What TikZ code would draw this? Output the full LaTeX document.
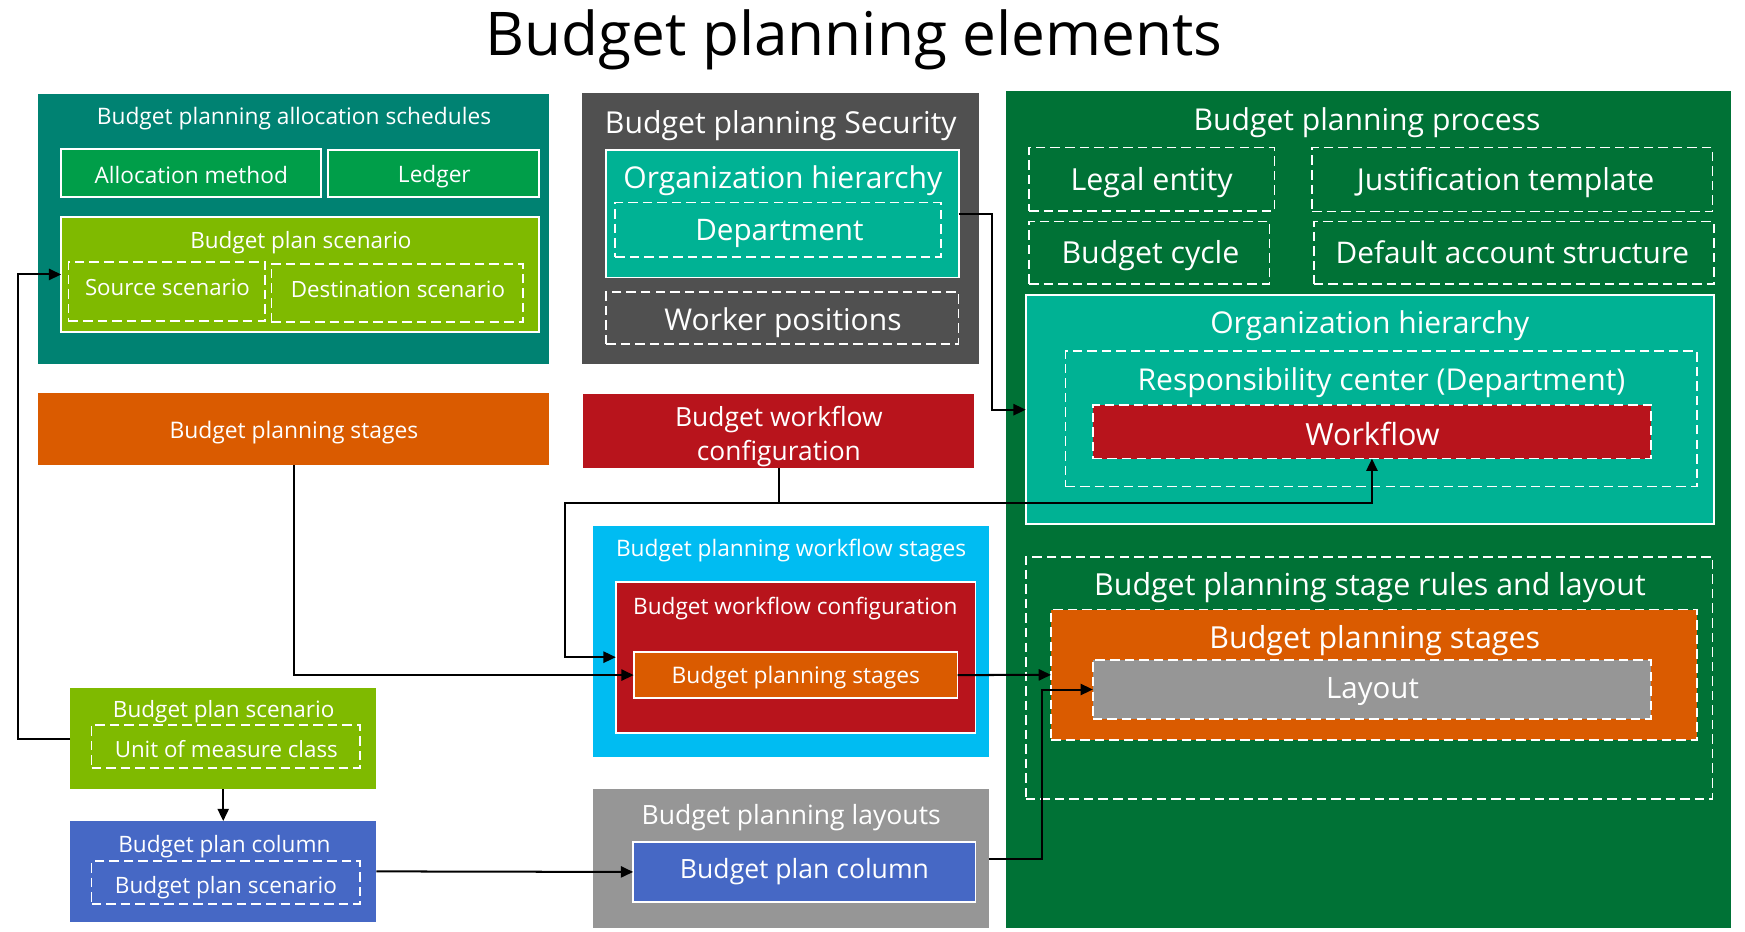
\documentclass[tikz,border=0pt]{standalone}
\usepackage{fontspec}
\setmainfont{Open Sans}
\usetikzlibrary{arrows.meta}
\definecolor{cteal}{HTML}{008272}
\definecolor{cgreen}{HTML}{009E49}
\definecolor{clime}{HTML}{7FBA00}
\definecolor{corange}{HTML}{DA5B00}
\definecolor{cdgray}{HTML}{505050}
\definecolor{cteal2}{HTML}{00B294}
\definecolor{cred}{HTML}{B8141C}
\definecolor{ccyan}{HTML}{00BCF2}
\definecolor{cgray}{HTML}{969696}
\definecolor{cblue}{HTML}{4668C5}
\definecolor{cdgreen}{HTML}{007236}
\newcommand\bx[6]{\pgfmathsetmacro\bxw{#5-#3}\pgfmathsetmacro\bxh{#6-#4}%
  \node[box,#2,minimum width=\bxw pt,minimum height=\bxh pt] (#1) at ({(#3+#5)/2},{(#4+#6)/2}) {};}
\newcommand\tx[5]{\node[txt] (#1) at (#2,#3+2.5) {\resizebox{#4pt}{!}{#5\vphantom{Bdg}}};}
\tikzset{
  box/.style={rectangle,inner sep=0pt,outer sep=0pt,anchor=center},
  solidw/.style={draw=white,line width=1.6pt},
  dashw/.style={draw=white,line width=1.5pt,dash pattern=on 8.5pt off 4.5pt},
  txt/.style={inner sep=0pt,outer sep=0pt,text=white,font=\fontsize{20}{24}\selectfont},
  wire/.style={draw=black,line width=1.8pt},
  conn/.style={wire,-{Triangle[length=11pt,width=10pt]}}
}
\begin{document}
\begin{tikzpicture}[x=1pt,y=-1pt]
\useasboundingbox (0,0) rectangle (1560,833);
\fill[white] (0,0) rectangle (1560,833);
% title
\node[txt,text=black] (title) at (763.5,36) {\resizebox{659pt}{!}{Budget planning elements\vphantom{Bdg}}};
% ---- left column
\bx{alloc}{fill=cteal}{34}{84}{491}{325.4}
\bx{almeth}{fill=cgreen,solidw}{54.7}{133.5}{286.7}{176.4}
\bx{ledger}{fill=cgreen,solidw}{293.5}{134.4}{481.7}{176.4}
\bx{scen1}{fill=clime,solidw}{54.7}{193.7}{481.7}{297}
\bx{src}{dashw}{61.2}{234}{237}{286.7}
\bx{dst}{dashw}{242.6}{235.8}{467.7}{288}
\bx{stagesL}{fill=corange}{34}{351.6}{491}{415.7}
\bx{scen2}{fill=clime}{62.7}{615.4}{336.4}{705.4}
\bx{uom}{dashw}{81.8}{648}{322}{686.3}
\bx{col1}{fill=cblue}{62.7}{734}{336.4}{824}
\bx{col1s}{dashw}{81.8}{770}{322}{808}
% ---- middle column
\bx{sec}{fill=cdgray}{520}{83}{875}{325.6}
\bx{orgS}{fill=cteal2,solidw}{542}{134}{857}{248}
\bx{dept}{dashw}{550}{181}{841}{230}
\bx{worker}{dashw}{542}{261}{857}{307.5}
\bx{wfconf}{fill=cred}{521}{352}{871}{418}
\bx{wfst}{fill=ccyan}{530}{470}{884}{677}
\bx{wfconf2}{fill=cred,solidw}{550.5}{520}{872}{655}
\bx{stagesM}{fill=corange,solidw}{566.5}{583}{856}{624}
\bx{layouts}{fill=cgray}{530.4}{705.6}{884}{830}
\bx{col2}{fill=cblue,solidw}{566}{752.4}{872}{806.6}
% ---- right column
\bx{proc}{fill=cdgreen}{899.5}{81.4}{1547.5}{830}
\bx{legal}{dashw}{920}{132}{1139.5}{188.6}
\bx{just}{dashw}{1173}{132}{1531}{189}
\bx{cycle}{dashw}{920}{198}{1135}{254}
\bx{def}{dashw}{1174.6}{198}{1532}{254}
\bx{orgR}{fill=cteal2,solidw}{917}{264}{1532}{468.5}
\bx{resp}{dashw}{952.6}{314}{1517}{435}
\bx{wflow}{fill=cred,dashw}{977}{362}{1476}{410}
\bx{rules}{dashw}{917}{497.7}{1531}{714}
\bx{stageO}{fill=corange,dashw}{939.6}{545}{1517}{661.6}
\bx{layoutb}{fill=cgray,dashw}{977}{590}{1476}{642.8}
% ---- texts left
\tx{tAlloc}{262.8}{103.7}{352.4}{Budget planning allocation schedules}
\tx{tAlm}{171}{156}{172.8}{Allocation method}
\tx{tLed}{388.3}{155}{65}{Ledger}
\tx{tScen1}{269}{214.6}{197.8}{Budget plan scenario}
\tx{tSrc}{149.7}{256.5}{147.4}{Source scenario}
\tx{tDst}{355.8}{258}{191.6}{Destination scenario}
\tx{tStL}{262.8}{384.4}{222.4}{Budget planning stages}
\tx{tScen2}{200}{634}{198}{Budget plan scenario}
\tx{tUom}{202.3}{669}{199.4}{Unit of measure class}
\tx{tCol1}{200.6}{754}{189.6}{Budget plan column}
\tx{tCol1s}{202}{790.6}{198.4}{Budget plan scenario}
% ---- texts middle
\tx{tSec}{698}{109.7}{314.4}{Budget planning Security}
\tx{tOrgS}{699.8}{159.4}{285}{Organization hierarchy}
\tx{tDept}{696.8}{205.6}{150.5}{Department}
\tx{tWork}{700}{286}{212}{Worker positions}
\node[txt,align=center,font=\fontsize{20}{30}\selectfont] (tWfc) at (696.3,390.5)
  {\resizebox{185.6pt}{!}{Budget workflow\vphantom{Bdg}}\\\resizebox{146.6pt}{!}{configuration\vphantom{Bdg}}};
\tx{tWfst}{707.2}{490}{313}{Budget planning workflow stages}
\tx{tWfc2}{711}{541.7}{290}{Budget workflow configuration}
\tx{tStM}{711.5}{603.4}{222}{Budget planning stages}
\tx{tLay}{707.3}{728}{267.4}{Budget planning layouts}
\tx{tCol2}{719.2}{776.3}{222.6}{Budget plan column}
% ---- texts right
\tx{tProc}{1222}{107}{310}{Budget planning process}
\tx{tLegal}{1029.5}{161}{145}{Legal entity}
\tx{tJust}{1346}{161}{266}{Justification template}
\tx{tCycle}{1028.5}{226}{159}{Budget cycle}
\tx{tDef}{1352}{226}{316}{Default account structure}
\tx{tOrgR}{1224.5}{289}{285}{Organization hierarchy}
\tx{tResp}{1235}{340}{436}{Responsibility center (Department)}
\tx{tWflow}{1227}{389}{120}{Workflow}
\tx{tRules}{1224.7}{523}{493}{Budget planning stage rules and layout}
\tx{tStR}{1229}{570}{295.5}{Budget planning stages}
\tx{tLayout}{1227}{615}{83}{Layout}
% ---- connectors
\draw[conn] (scen2.west) -- ++(-46.7,0) |- (scen1.west);
\draw[conn] (stagesL.south) |- (stagesM.west);
\coordinate (j1) at (696,450);
\coordinate (j2) at (505,450);
\draw[wire] (wfconf.south) -- (j1);
\draw[conn] (j1) -- (j2) |- (wfconf2.west);
\draw[conn] (j1) -| (wflow.south);
\draw[conn] (orgS.east) -- ++(30,0) |- (orgR.west);
\draw[conn] (stagesM.east) -- (stageO.west);
\draw[conn] (scen2.south) -- (col1.north);
\draw[conn] (col1.east) -- (col2.west);
\draw[conn] (layouts.east) -- ++(47.2,0) |- (layoutb.west);
\end{tikzpicture}
\end{document}
